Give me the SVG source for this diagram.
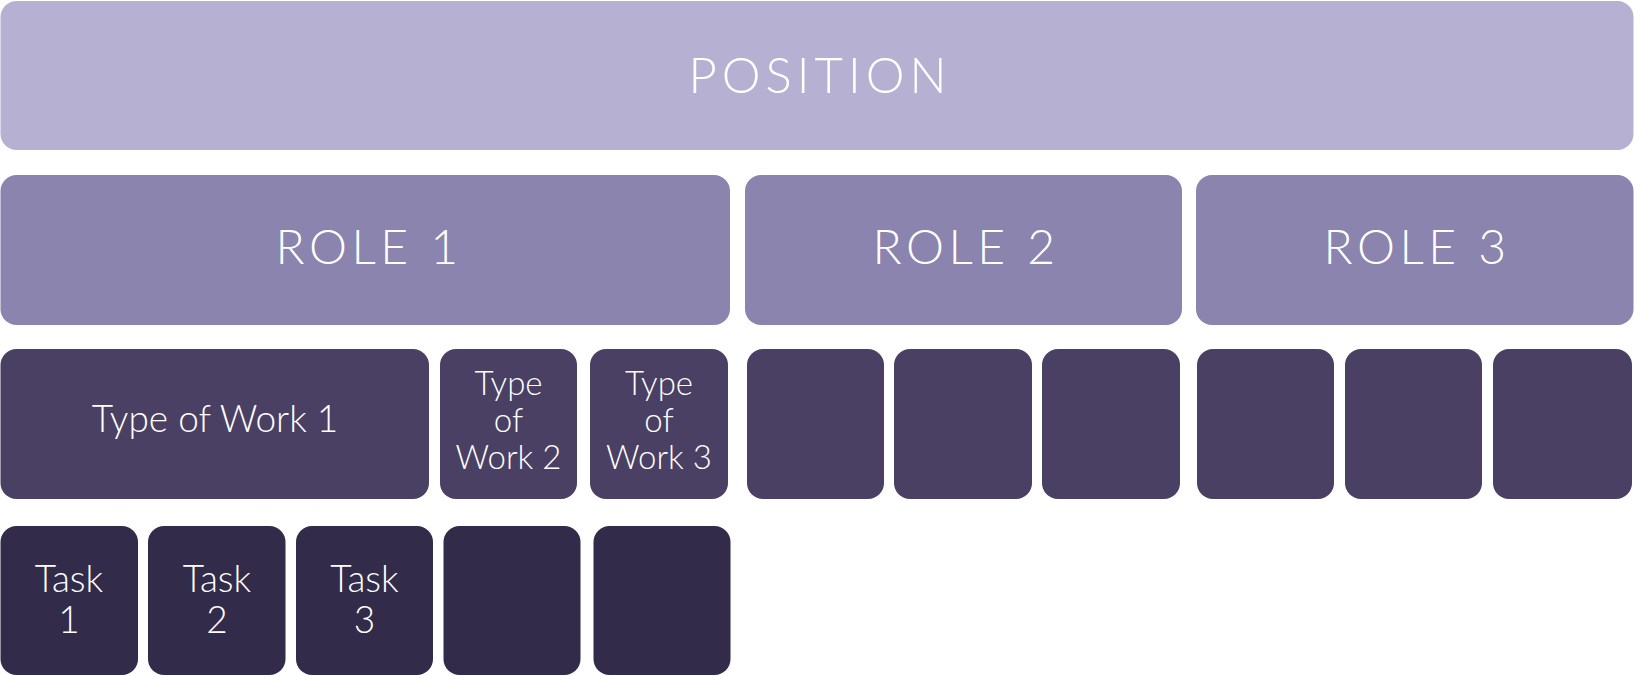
<svg xmlns="http://www.w3.org/2000/svg" width="1634" height="676" viewBox="0 0 1634 676">
<style>
.pos{fill:#B6B1D3}
.role{fill:#8A84AE}
.tw{fill:#4A4063}
.task{fill:#322B4A}
text{fill:#FFFFFF;font-family:Lato,"Open Sans","Liberation Sans",sans-serif;font-weight:300;text-anchor:middle}
.t1{font-size:49px;letter-spacing:5px}
.t2{font-size:48px;letter-spacing:4.5px}
.t3{font-size:37px}
.t4{font-size:33px}
.t5{font-size:37px}
</style>
<rect width="1634" height="676" fill="#FFFFFF"/>
<g id="position">
<rect class="pos" x="0.5" y="1" width="1633" height="149" rx="16"/>
<text class="t1" x="820" y="92.5">POSITION</text>
</g>
<g id="role1">
<rect class="role" x="0.5" y="175" width="729.5" height="150" rx="16"/>
<text class="t2" x="369" y="264">ROLE 1</text>
</g>
<g id="role2">
<rect class="role" x="745" y="175" width="437" height="150" rx="16"/>
<text class="t2" x="966" y="264">ROLE 2</text>
</g>
<g id="role3">
<rect class="role" x="1196" y="175" width="437.5" height="150" rx="16"/>
<text class="t2" x="1417" y="264">ROLE 3</text>
</g>
<g id="tw1">
<rect class="tw" x="0.5" y="349" width="428.5" height="150" rx="16"/>
<text class="t3" x="215" y="432">Type of Work 1</text>
</g>
<g id="tw2">
<rect class="tw" x="440" y="349" width="137" height="150" rx="16"/>
<text class="t4" x="508.5" y="395">Type</text>
<text class="t4" x="508.5" y="432">of</text>
<text class="t4" x="508.5" y="469">Work 2</text>
</g>
<g id="tw3">
<rect class="tw" x="590" y="349" width="138" height="150" rx="16"/>
<text class="t4" x="659" y="395">Type</text>
<text class="t4" x="659" y="432">of</text>
<text class="t4" x="659" y="469">Work 3</text>
</g>
<g id="tw4"><rect class="tw" x="747" y="349" width="137" height="150" rx="16"/></g>
<g id="tw5"><rect class="tw" x="894" y="349" width="138" height="150" rx="16"/></g>
<g id="tw6"><rect class="tw" x="1042" y="349" width="138" height="150" rx="16"/></g>
<g id="tw7"><rect class="tw" x="1197" y="349" width="137" height="150" rx="16"/></g>
<g id="tw8"><rect class="tw" x="1345" y="349" width="137" height="150" rx="16"/></g>
<g id="tw9"><rect class="tw" x="1493" y="349" width="139" height="150" rx="16"/></g>
<g id="task1">
<rect class="task" x="0.5" y="526" width="137.5" height="149" rx="16"/>
<text class="t5" x="69" y="592">Task</text>
<text class="t5" x="69" y="633">1</text>
</g>
<g id="task2">
<rect class="task" x="148" y="526" width="137.5" height="149" rx="16"/>
<text class="t5" x="217" y="592">Task</text>
<text class="t5" x="217" y="633">2</text>
</g>
<g id="task3">
<rect class="task" x="296" y="526" width="137" height="149" rx="16"/>
<text class="t5" x="364.5" y="592">Task</text>
<text class="t5" x="364.5" y="633">3</text>
</g>
<g id="task4"><rect class="task" x="443.5" y="526" width="137" height="149" rx="16"/></g>
<g id="task5"><rect class="task" x="593.5" y="526" width="137" height="149" rx="16"/></g>
<g id="connectors"></g>
</svg>
